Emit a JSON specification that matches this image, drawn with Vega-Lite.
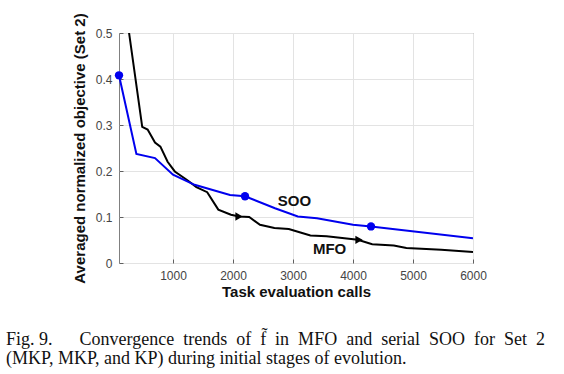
{
  "$schema": "https://vega.github.io/schema/vega-lite/v6.json",
  "autosize": {"type": "none"},
  "width": 354,
  "height": 230,
  "padding": {"left": 119, "top": 33, "right": 91, "bottom": 111},
  "background": "white",
  "config": {
    "font": "Liberation Sans",
    "view": {"stroke": "#808080", "strokeWidth": 1},
    "axis": {
      "grid": true,
      "gridColor": "#e3e3e3",
      "domain": false,
      "tickColor": "#606060",
      "tickSize": -4,
      "labelFlush": false,
      "labelColor": "#444444",
      "labelFontSize": 12,
      "titleFontSize": 15,
      "titleFontWeight": "bold",
      "titleColor": "#111111"
    }
  },
  "title": {
    "text": ["Fig. 9.\u00a0\u00a0\u00a0\u00a0\u00a0\u00a0Convergence\u00a0 trends\u00a0 of\u00a0 f\u0303\u00a0 in\u00a0 MFO\u00a0 and\u00a0 serial\u00a0 SOO\u00a0 for\u00a0 Set\u00a0 2", "(MKP, MKP, and KP) during initial stages of evolution."],
    "orient": "bottom",
    "anchor": "start",
    "frame": "group",
    "dx": -113,
    "offset": 32,
    "font": "Liberation Serif",
    "fontSize": 18,
    "fontWeight": "normal",
    "color": "#111111",
    "lineHeight": 19
  },
  "datasets": {
    "soo": [
      {"x": 100, "y": 0.408}, {"x": 390, "y": 0.237}, {"x": 700, "y": 0.228}, {"x": 1000, "y": 0.192},
      {"x": 1360, "y": 0.170}, {"x": 1950, "y": 0.148}, {"x": 2200, "y": 0.145}, {"x": 2700, "y": 0.119},
      {"x": 3080, "y": 0.101}, {"x": 3400, "y": 0.0975}, {"x": 4000, "y": 0.083}, {"x": 4300, "y": 0.0795},
      {"x": 6000, "y": 0.054}
    ],
    "sooMarks": [{"x": 100, "y": 0.408}, {"x": 2200, "y": 0.145}, {"x": 4300, "y": 0.0795}],
    "mfo": [
      {"x": 240, "y": 0.56}, {"x": 268, "y": 0.5}, {"x": 487, "y": 0.296}, {"x": 577, "y": 0.29},
      {"x": 700, "y": 0.262}, {"x": 790, "y": 0.253}, {"x": 910, "y": 0.22}, {"x": 1030, "y": 0.199},
      {"x": 1240, "y": 0.18}, {"x": 1390, "y": 0.165}, {"x": 1570, "y": 0.154}, {"x": 1755, "y": 0.116},
      {"x": 1966, "y": 0.105}, {"x": 2100, "y": 0.101}, {"x": 2270, "y": 0.1}, {"x": 2450, "y": 0.083},
      {"x": 2690, "y": 0.076}, {"x": 2930, "y": 0.074}, {"x": 3110, "y": 0.067}, {"x": 3290, "y": 0.06},
      {"x": 3560, "y": 0.058}, {"x": 4080, "y": 0.0506}, {"x": 4320, "y": 0.041}, {"x": 4680, "y": 0.038},
      {"x": 4890, "y": 0.0325}, {"x": 5470, "y": 0.029}, {"x": 6000, "y": 0.024}
    ],
    "mfoMarks": [{"x": 2100, "y": 0.101}, {"x": 4100, "y": 0.0503}],
    "labels": [{"x": 3023, "y": 0.134, "t": "SOO"}, {"x": 3609, "y": 0.030, "t": "MFO"}]
  },
  "encoding": {
    "x": {
      "field": "x", "type": "quantitative",
      "scale": {"domain": [100, 6000], "nice": false, "zero": false},
      "axis": {"values": [1000, 2000, 3000, 4000, 5000, 6000], "format": "d", "title": "Task evaluation calls", "labelPadding": 11, "titlePadding": 3}
    },
    "y": {
      "field": "y", "type": "quantitative",
      "scale": {"domain": [0, 0.5], "nice": false},
      "axis": {"values": [0, 0.1, 0.2, 0.3, 0.4, 0.5], "format": "~g", "title": "Averaged normalized objective (Set 2)", "labelPadding": 11, "titlePadding": 8}
    }
  },
  "layer": [
    {"data": {"name": "mfo"}, "mark": {"type": "line", "color": "black", "strokeWidth": 2, "clip": true}},
    {"data": {"name": "soo"}, "mark": {"type": "line", "color": "#0000ee", "strokeWidth": 2, "clip": true}},
    {"data": {"name": "sooMarks"}, "mark": {"type": "point", "shape": "circle", "filled": true, "color": "#0000ee", "opacity": 1, "size": 70}},
    {"data": {"name": "mfoMarks"}, "mark": {"type": "point", "shape": "triangle-right", "filled": true, "color": "black", "opacity": 1, "size": 70}},
    {"data": {"name": "labels"}, "mark": {"type": "text", "fontSize": 15, "fontWeight": "bold", "color": "#111111"}, "encoding": {"text": {"field": "t"}}}
  ]
}
